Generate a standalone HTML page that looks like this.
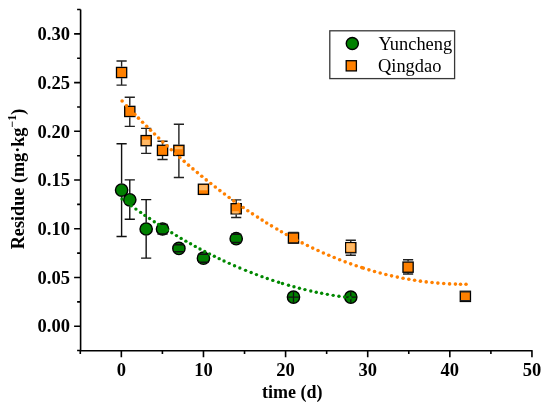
<!DOCTYPE html><html><head><meta charset="utf-8"><style>html,body{margin:0;padding:0;background:#fff;}svg{display:block;filter:blur(0.3px);}</style></head><body>
<svg width="550" height="412" viewBox="0 0 550 412">
<rect width="550" height="412" fill="#fff"/>
<path d="M80.60,9.52V350.80H532.65 M80.60,350.56h-3.5 M80.60,326.20h-6.5 M80.60,301.84h-3.5 M80.60,277.48h-6.5 M80.60,253.12h-3.5 M80.60,228.76h-6.5 M80.60,204.40h-3.5 M80.60,180.04h-6.5 M80.60,155.68h-3.5 M80.60,131.32h-6.5 M80.60,106.96h-3.5 M80.60,82.60h-6.5 M80.60,58.24h-3.5 M80.60,33.88h-6.5 M80.60,9.52h-3.5 M80.29,350.80v3.3 M121.35,350.80v6.5 M162.41,350.80v3.3 M203.47,350.80v6.5 M244.53,350.80v3.3 M285.59,350.80v6.5 M326.65,350.80v3.3 M367.71,350.80v6.5 M408.77,350.80v3.3 M449.83,350.80v6.5 M490.89,350.80v3.3 M531.95,350.80v6.5" fill="none" stroke="#000" stroke-width="1.6"/>
<g font-family="Liberation Serif, serif" font-weight="bold" font-size="18.5" fill="#000">
<text x="69.9" y="332.40" text-anchor="end">0.00</text>
<text x="69.9" y="283.68" text-anchor="end">0.05</text>
<text x="69.9" y="234.96" text-anchor="end">0.10</text>
<text x="69.9" y="186.24" text-anchor="end">0.15</text>
<text x="69.9" y="137.52" text-anchor="end">0.20</text>
<text x="69.9" y="88.80" text-anchor="end">0.25</text>
<text x="69.9" y="40.08" text-anchor="end">0.30</text>
<text x="121.35" y="376.2" text-anchor="middle">0</text>
<text x="203.47" y="376.2" text-anchor="middle">10</text>
<text x="285.59" y="376.2" text-anchor="middle">20</text>
<text x="367.71" y="376.2" text-anchor="middle">30</text>
<text x="449.83" y="376.2" text-anchor="middle">40</text>
<text x="531.95" y="376.2" text-anchor="middle">50</text>
</g>
<text x="292.3" y="398.4" text-anchor="middle" font-family="Liberation Serif, serif" font-weight="bold" font-size="18">time (d)</text>
<text transform="translate(24.2,249.3) rotate(-90)" font-family="Liberation Serif, serif" font-weight="bold" font-size="18.2">Residue (mg·kg<tspan dy="-8.5" font-size="12">−1</tspan><tspan dy="8.5">)</tspan></text>
<rect x="116.50" y="67.41" width="10.2" height="10.2" fill="#FF8000" stroke="#000" stroke-width="1.3"/>
<rect x="124.69" y="106.34" width="10.2" height="10.2" fill="#FF8000" stroke="#000" stroke-width="1.3"/>
<rect x="141.06" y="135.54" width="10.2" height="10.2" fill="#FF8000" stroke="#000" stroke-width="1.3"/>
<rect x="157.43" y="145.27" width="10.2" height="10.2" fill="#FF8000" stroke="#000" stroke-width="1.3"/>
<rect x="173.79" y="145.27" width="10.2" height="10.2" fill="#FF8000" stroke="#000" stroke-width="1.3"/>
<rect x="198.35" y="184.20" width="10.2" height="10.2" fill="#FF8000" stroke="#000" stroke-width="1.3"/>
<rect x="231.09" y="203.67" width="10.2" height="10.2" fill="#FF8000" stroke="#000" stroke-width="1.3"/>
<rect x="288.38" y="232.87" width="10.2" height="10.2" fill="#FF8000" stroke="#000" stroke-width="1.3"/>
<rect x="345.68" y="242.60" width="10.2" height="10.2" fill="#FF8000" stroke="#000" stroke-width="1.3"/>
<rect x="402.98" y="262.06" width="10.2" height="10.2" fill="#FF8000" stroke="#000" stroke-width="1.3"/>
<rect x="460.27" y="291.26" width="10.2" height="10.2" fill="#FF8000" stroke="#000" stroke-width="1.3"/>
<rect x="142.25" y="139.74" width="7.6" height="5.2" fill="#FFB966"/>
<rect x="174.99" y="146.67" width="7.5" height="2.6" fill="#FFB966"/>
<rect x="199.25" y="185.10" width="8.0" height="5.2" fill="#FFB966"/>
<rect x="232.29" y="211.27" width="6.5" height="2.2" fill="#FFB966"/>
<rect x="346.38" y="243.30" width="8.2" height="8.2" fill="#FFB966"/>
<path d="M121.60,61.00V66.81M121.60,78.21V85.10M116.50,61.00h10.2M116.50,85.10h10.2M129.78,97.30V105.74M129.78,117.14V126.40M124.69,97.30h10.2M124.69,126.40h10.2M146.16,128.40V134.94M146.16,146.34V153.40M141.06,128.40h10.2M141.06,153.40h10.2M162.53,141.20V144.67M162.53,156.07V159.50M157.43,141.20h10.2M157.43,159.50h10.2M178.89,124.20V144.67M178.89,156.07V177.50M173.79,124.20h10.2M173.79,177.50h10.2M236.19,199.90V203.07M236.19,214.47V217.50M231.09,199.90h10.2M231.09,217.50h10.2M288.38,232.50h10.2M288.38,243.30h10.2M350.78,240.20V242.00M350.78,253.40V255.30M345.68,240.20h10.2M345.68,255.30h10.2M408.08,259.80V261.46M408.08,272.86V274.00M402.98,259.80h10.2M402.98,274.00h10.2M460.27,291.70h10.2M460.27,300.60h10.2" fill="none" stroke="#222" stroke-width="1.4"/>
<circle cx="350.78" cy="297.11" r="6.15" fill="#008000" stroke="#000" stroke-width="1.4"/>
<circle cx="293.49" cy="297.11" r="6.15" fill="#008000" stroke="#000" stroke-width="1.4"/>
<circle cx="236.19" cy="238.72" r="6.15" fill="#008000" stroke="#000" stroke-width="1.4"/>
<circle cx="203.45" cy="258.18" r="6.15" fill="#008000" stroke="#000" stroke-width="1.4"/>
<circle cx="178.89" cy="248.45" r="6.15" fill="#008000" stroke="#000" stroke-width="1.4"/>
<circle cx="162.53" cy="228.98" r="6.15" fill="#008000" stroke="#000" stroke-width="1.4"/>
<circle cx="146.16" cy="228.98" r="6.15" fill="#008000" stroke="#000" stroke-width="1.4"/>
<circle cx="129.78" cy="199.79" r="6.15" fill="#008000" stroke="#000" stroke-width="1.4"/>
<circle cx="121.60" cy="190.05" r="6.15" fill="#008000" stroke="#000" stroke-width="1.4"/>
<path d="M121.60,143.70V183.45M121.60,196.65V236.50M116.50,143.70h10.2M116.50,236.50h10.2M129.78,179.90V193.19M129.78,206.39V219.30M124.69,179.90h10.2M124.69,219.30h10.2M146.16,199.60V222.38M146.16,235.58V258.10M141.06,199.60h10.2M141.06,258.10h10.2M157.43,224.40h10.2M157.43,234.00h10.2M173.79,244.80h10.2M173.79,251.70h10.2M198.35,254.30h10.2M198.35,262.30h10.2M231.09,234.30h10.2M231.09,242.50h10.2" fill="none" stroke="#111" stroke-width="1.4"/>
<path d="M287.99,297.11h11M293.49,291.61v11M345.28,297.11h11M350.78,291.61v11" stroke="#111" stroke-width="1.3" fill="none"/>
<g fill="#FF8000"><circle cx="122.10" cy="101.02" r="1.8"/><circle cx="126.49" cy="105.68" r="1.8"/><circle cx="130.66" cy="110.06" r="1.8"/><circle cx="134.87" cy="114.41" r="1.8"/><circle cx="138.50" cy="118.13" r="1.8"/><circle cx="142.58" cy="122.25" r="1.8"/><circle cx="146.69" cy="126.35" r="1.8"/><circle cx="150.53" cy="130.14" r="1.8"/><circle cx="154.55" cy="134.04" r="1.8"/><circle cx="158.66" cy="137.99" r="1.8"/><circle cx="162.84" cy="141.96" r="1.8"/><circle cx="167.06" cy="145.90" r="1.8"/><circle cx="171.30" cy="149.81" r="1.8"/><circle cx="175.57" cy="153.69" r="1.8"/><circle cx="179.87" cy="157.54" r="1.8"/><circle cx="184.19" cy="161.35" r="1.8"/><circle cx="188.55" cy="165.13" r="1.8"/><circle cx="192.93" cy="168.88" r="1.8"/><circle cx="197.35" cy="172.59" r="1.8"/><circle cx="201.79" cy="176.27" r="1.8"/><circle cx="206.27" cy="179.91" r="1.8"/><circle cx="210.78" cy="183.51" r="1.8"/><circle cx="215.31" cy="187.07" r="1.8"/><circle cx="219.88" cy="190.59" r="1.8"/><circle cx="224.48" cy="194.07" r="1.8"/><circle cx="229.11" cy="197.51" r="1.8"/><circle cx="233.78" cy="200.91" r="1.8"/><circle cx="238.47" cy="204.26" r="1.8"/><circle cx="243.20" cy="207.56" r="1.8"/><circle cx="247.82" cy="210.72" r="1.8"/><circle cx="252.48" cy="213.84" r="1.8"/><circle cx="257.50" cy="217.12" r="1.8"/><circle cx="262.13" cy="220.09" r="1.8"/><circle cx="266.71" cy="222.95" r="1.8"/><circle cx="271.49" cy="225.87" r="1.8"/><circle cx="276.82" cy="229.03" r="1.8"/><circle cx="281.45" cy="231.72" r="1.8"/><circle cx="286.37" cy="234.49" r="1.8"/><circle cx="291.60" cy="237.36" r="1.8"/><circle cx="296.87" cy="240.17" r="1.8"/><circle cx="302.17" cy="242.90" r="1.8"/><circle cx="307.42" cy="245.53" r="1.8"/><circle cx="312.71" cy="248.08" r="1.8"/><circle cx="318.03" cy="250.56" r="1.8"/><circle cx="323.39" cy="252.97" r="1.8"/><circle cx="328.78" cy="255.31" r="1.8"/><circle cx="334.20" cy="257.56" r="1.8"/><circle cx="339.65" cy="259.74" r="1.8"/><circle cx="345.14" cy="261.84" r="1.8"/><circle cx="350.66" cy="263.85" r="1.8"/><circle cx="356.20" cy="265.78" r="1.8"/><circle cx="361.78" cy="267.62" r="1.8"/><circle cx="363.30" cy="268.11" r="1.8"/><circle cx="368.90" cy="269.84" r="1.8"/><circle cx="374.53" cy="271.48" r="1.8"/><circle cx="380.18" cy="273.02" r="1.8"/><circle cx="385.86" cy="274.47" r="1.8"/><circle cx="391.56" cy="275.83" r="1.8"/><circle cx="397.32" cy="277.10" r="1.8"/><circle cx="403.06" cy="278.26" r="1.8"/><circle cx="408.83" cy="279.32" r="1.8"/><circle cx="414.61" cy="280.28" r="1.8"/><circle cx="420.40" cy="281.14" r="1.8"/><circle cx="426.22" cy="281.90" r="1.8"/><circle cx="432.04" cy="282.56" r="1.8"/><circle cx="437.87" cy="283.10" r="1.8"/><circle cx="443.72" cy="283.55" r="1.8"/><circle cx="449.57" cy="283.88" r="1.8"/><circle cx="455.42" cy="284.11" r="1.8"/><circle cx="460.52" cy="284.23" r="1.8"/><circle cx="466.02" cy="284.26" r="1.8"/></g>
<g fill="#008800"><circle cx="122.00" cy="198.95" r="1.7"/><circle cx="126.60" cy="202.37" r="1.7"/><circle cx="131.24" cy="205.75" r="1.7"/><circle cx="135.90" cy="209.09" r="1.7"/><circle cx="140.64" cy="212.42" r="1.7"/><circle cx="144.92" cy="215.38" r="1.7"/><circle cx="149.59" cy="218.55" r="1.7"/><circle cx="154.29" cy="221.69" r="1.7"/><circle cx="158.63" cy="224.52" r="1.7"/><circle cx="162.98" cy="227.31" r="1.7"/><circle cx="167.36" cy="230.06" r="1.7"/><circle cx="171.77" cy="232.78" r="1.7"/><circle cx="176.45" cy="235.61" r="1.7"/><circle cx="181.15" cy="238.39" r="1.7"/><circle cx="185.88" cy="241.13" r="1.7"/><circle cx="190.58" cy="243.79" r="1.7"/><circle cx="195.28" cy="246.39" r="1.7"/><circle cx="200.01" cy="248.94" r="1.7"/><circle cx="204.77" cy="251.44" r="1.7"/><circle cx="209.54" cy="253.89" r="1.7"/><circle cx="214.35" cy="256.29" r="1.7"/><circle cx="219.18" cy="258.64" r="1.7"/><circle cx="224.04" cy="260.94" r="1.7"/><circle cx="229.28" cy="263.34" r="1.7"/><circle cx="234.55" cy="265.69" r="1.7"/><circle cx="239.84" cy="267.96" r="1.7"/><circle cx="245.57" cy="270.34" r="1.7"/><circle cx="251.14" cy="272.56" r="1.7"/><circle cx="256.46" cy="274.61" r="1.7"/><circle cx="262.00" cy="276.65" r="1.7"/><circle cx="267.28" cy="278.52" r="1.7"/><circle cx="272.82" cy="280.40" r="1.7"/><circle cx="278.57" cy="282.26" r="1.7"/><circle cx="282.49" cy="283.47" r="1.7"/><circle cx="288.53" cy="285.26" r="1.7"/><circle cx="293.97" cy="286.79" r="1.7"/><circle cx="299.43" cy="288.24" r="1.7"/><circle cx="304.96" cy="289.62" r="1.7"/><circle cx="310.80" cy="290.99" r="1.7"/><circle cx="316.27" cy="292.18" r="1.7"/><circle cx="321.66" cy="293.28" r="1.7"/><circle cx="327.36" cy="294.36" r="1.7"/><circle cx="333.18" cy="295.36" r="1.7"/><circle cx="338.96" cy="296.26" r="1.7"/><circle cx="344.55" cy="297.05" r="1.7"/><circle cx="350.11" cy="297.74" r="1.7"/></g>
<rect x="329.8" y="30.8" width="124.8" height="47.8" fill="none" stroke="#383838" stroke-width="1.3"/>
<circle cx="352.3" cy="43.5" r="6.05" fill="#008000" stroke="#000" stroke-width="1.4"/>
<rect x="346.2" y="60.699999999999996" width="10.2" height="10.2" fill="#FF8000" stroke="#000" stroke-width="1.3"/>
<g font-family="Liberation Serif, serif" font-size="18.4" fill="#000">
<text x="378.6" y="49.7">Yuncheng</text>
<text x="378.0" y="71.6">Qingdao</text>
</g>
</svg></body></html>
